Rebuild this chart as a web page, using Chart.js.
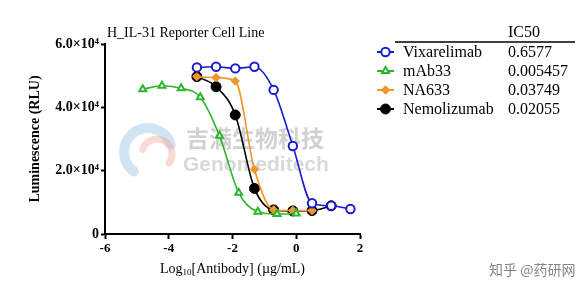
<!DOCTYPE html>
<html>
<head>
<meta charset="utf-8">
<script src="https://cdn.jsdelivr.net/npm/chart.js@4.4.1/dist/chart.umd.min.js"></script>
<style>
  html, body { margin: 0; padding: 0; background: #fff; }
  #wrap { position: relative; width: 583px; height: 297px; }
</style>
</head>
<body>
<div id="wrap"><canvas id="c" width="583" height="297"></canvas></div>
<script>
// ---- Data ----
const seriesNames = ['Vixarelimab', 'mAb33', 'NA633', 'Nemolizumab'];
const ic50Labels = ['0.6577', '0.005457', '0.03749', '0.02055'];

const logDoseVix  = [-3.117, -2.515, -1.913, -1.311, -0.709, -0.107, 0.495, 1.097, 1.699];
const rluVix      = [52600, 52800, 52300, 52800, 45500, 27800, 9700, 8900, 7900];

const logDoseMab  = [-4.816, -4.214, -3.612, -3.010, -2.408, -1.806, -1.204, -0.602, 0.000];
const rluMab      = [45700, 46800, 46000, 43200, 31000, 13000, 7000, 6300, 6500];

const logDoseNA   = [-3.117, -2.515, -1.913, -1.311, -0.709, -0.107, 0.495];
const rluNA       = [49700, 49400, 48300, 20400, 7600, 7400, 7400];

const logDoseNemo = [-3.117, -2.515, -1.913, -1.311, -0.709, -0.107, 0.495, 1.097];
const rluNemo     = [49700, 46500, 37600, 14400, 7600, 7300, 7400, 8900];

const xTickValues = [-6, -4, -2, 0, 2];
const yTickValues = [0, 20000, 40000, 60000];

function pts(xs, ys) { return xs.map((x, i) => ({ x: x, y: ys[i] })); }

const SERIF = '"Liberation Serif", "Times New Roman", serif';

const styles = [
  { color: '#1c1cc8', pointStyle: 'circle',   radius: 4.2, fill: '#ffffff', bw: 2 },
  { color: '#2db52d', pointStyle: 'triangle', radius: 4.0, fill: '#ffffff', bw: 2 },
  { color: '#f0962a', pointStyle: 'rectRot',  radius: 4.2, fill: '#f0962a', bw: 1 },
  { color: '#000000', pointStyle: 'circle',   radius: 5,   fill: '#000000', bw: 1 }
];
const dataSets = [pts(logDoseVix, rluVix), pts(logDoseMab, rluMab), pts(logDoseNA, rluNA), pts(logDoseNemo, rluNemo)];

const datasets = dataSets.map((d, i) => ({
  label: seriesNames[i],
  data: d,
  showLine: true,
  cubicInterpolationMode: 'monotone',
  borderColor: styles[i].color,
  borderWidth: 1.6,
  pointStyle: styles[i].pointStyle,
  pointRadius: styles[i].radius,
  pointBorderWidth: styles[i].bw,
  pointBorderColor: styles[i].color,
  pointBackgroundColor: styles[i].fill,
  backgroundColor: styles[i].fill
}));

const decor = {
  id: 'decor',
  beforeDatasetsDraw(chart) {
    const ctx = chart.ctx;
    ctx.save();
    // logo swirl (watermark)
    ctx.lineCap = 'round';
    ctx.strokeStyle = 'rgba(150,195,230,0.45)';
    ctx.lineWidth = 10;
    ctx.beginPath();
    ctx.arc(148, 152, 24, Math.PI * 0.7, Math.PI * 1.9);
    ctx.stroke();
    ctx.strokeStyle = 'rgba(240,170,160,0.45)';
    ctx.lineWidth = 7;
    ctx.beginPath();
    ctx.arc(157, 154, 15, Math.PI * 1.1, Math.PI * 2.2);
    ctx.stroke();
    // watermark text
    ctx.fillStyle = 'rgba(190,190,190,0.7)';
    ctx.textAlign = 'left';
    ctx.textBaseline = 'middle';
    ctx.font = 'bold 23px "Noto Sans CJK SC", sans-serif';
    ctx.fillText('吉满生物科技', 186, 138);
    ctx.fillStyle = 'rgba(200,200,200,0.7)';
    ctx.font = 'bold 21px "Liberation Sans", Arial, sans-serif';
    ctx.fillText('Genomeditech', 183, 165);
    ctx.restore();
  },
  afterDraw(chart) {
    const ctx = chart.ctx;
    ctx.save();
    // chart title
    ctx.fillStyle = '#000';
    ctx.textAlign = 'left';
    ctx.textBaseline = 'middle';
    ctx.font = '14px ' + SERIF;
    ctx.fillText('H_IL-31 Reporter Cell Line', 107, 33);

    // legend table
    ctx.font = '16px ' + SERIF;
    ctx.fillText('IC50', 508, 33);
    ctx.strokeStyle = '#000';
    ctx.lineWidth = 1.5;
    ctx.beginPath();
    ctx.moveTo(395, 42);
    ctx.lineTo(575, 42);
    ctx.stroke();
    const rowY = [52, 71, 90, 109];
    chart.data.datasets.forEach((ds, i) => {
      const y = rowY[i];
      ctx.strokeStyle = ds.borderColor;
      ctx.lineWidth = 2;
      ctx.beginPath();
      ctx.moveTo(377, y);
      ctx.lineTo(394, y);
      ctx.stroke();
      const opts = {
        pointStyle: ds.pointStyle,
        radius: ds.pointRadius,
        borderWidth: ds.pointBorderWidth,
        rotation: 0
      };
      ctx.fillStyle = ds.pointBackgroundColor;
      ctx.strokeStyle = ds.pointBorderColor;
      ctx.lineWidth = ds.pointBorderWidth;
      if (Chart.helpers && Chart.helpers.drawPoint) {
        Chart.helpers.drawPoint(ctx, opts, 385.5, y);
      }
      ctx.fillStyle = '#000';
      ctx.font = '16px ' + SERIF;
      ctx.fillText(ds.label, 403, y + 1);
      ctx.fillText(ic50Labels[i], 508, y + 1);
    });

    // x-axis title with subscript
    const xs = chart.scales.x;
    const cx = (xs.left + xs.right) / 2;
    const yT = 269;
    const p1 = 'Log', p2 = '10', p3 = '[Antibody] (\u00b5g/mL)';
    ctx.font = '14px ' + SERIF;
    const w1 = ctx.measureText(p1).width, w3 = ctx.measureText(p3).width;
    ctx.font = '9px ' + SERIF;
    const w2 = ctx.measureText(p2).width;
    let x0 = cx - (w1 + w2 + w3) / 2;
    ctx.font = '14px ' + SERIF;
    ctx.fillText(p1, x0, yT);
    ctx.font = '9px ' + SERIF;
    ctx.fillText(p2, x0 + w1, yT + 4);
    ctx.font = '14px ' + SERIF;
    ctx.fillText(p3, x0 + w1 + w2, yT);

    // platform watermark
    ctx.fillStyle = 'rgba(120,120,120,0.9)';
    ctx.font = '14px "Noto Sans CJK SC", sans-serif';
    ctx.fillText('知乎 @药研网', 489, 270);
    ctx.restore();
  }
};

new Chart(document.getElementById('c'), {
  type: 'scatter',
  data: { datasets: datasets },
  options: {
    responsive: false,
    animation: false,
    layout: { padding: { top: 44, right: 223, bottom: 0, left: 0 } },
    plugins: { legend: { display: false }, title: { display: false }, tooltip: { enabled: false } },
    scales: {
      x: {
        type: 'linear',
        min: -6, max: 2,
        afterFit: s => { s.height = 63; },
        afterBuildTicks: s => { s.ticks = xTickValues.map(v => ({ value: v })); },
        ticks: { color: '#000', padding: 2, maxRotation: 0,
                 font: { family: SERIF, size: 13, weight: 'bold' } },
        grid: { display: true, drawOnChartArea: false, drawTicks: true, tickLength: 5,
                tickColor: '#000', tickWidth: 2 },
        border: { display: true, color: '#000', width: 2 },
        title: { display: false }
      },
      y: {
        type: 'linear',
        min: 0, max: 60000,
        afterFit: s => { s.width = 105; },
        afterBuildTicks: s => { s.ticks = yTickValues.map(v => ({ value: v })); },
        ticks: { color: '#000', padding: 2,
                 font: { family: SERIF, size: 14, weight: 'bold' },
                 callback: v => v === 0 ? '0' : (v / 10000).toFixed(1) + '\u00d710\u2074' },
        grid: { display: true, drawOnChartArea: false, drawTicks: true, tickLength: 4,
                tickColor: '#000', tickWidth: 2 },
        border: { display: true, color: '#000', width: 2 },
        title: { display: true, text: 'Luminescence (RLU)', color: '#000',
                 font: { family: SERIF, size: 14, weight: 'bold' },
                 padding: { top: 26.6, bottom: 0 } }
      }
    }
  },
  plugins: [decor]
});
</script>
</body>
</html>
